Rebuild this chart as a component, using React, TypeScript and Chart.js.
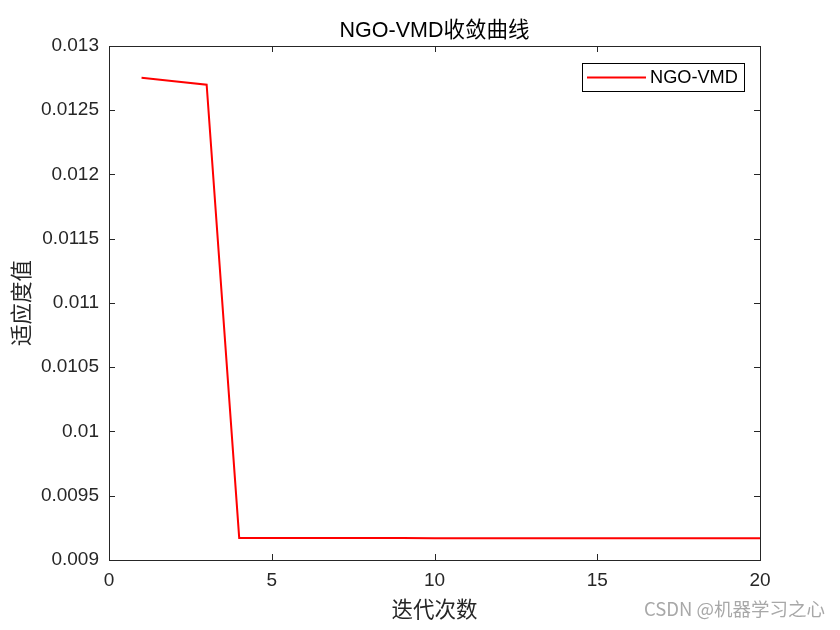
import React, { useEffect, useRef } from "react";
import { Chart, registerables } from "chart.js";

Chart.register(...registerables);

const iterations = [1, 2, 3, 4, 5, 6, 7, 8, 9, 10, 11, 12, 13, 14, 15, 16, 17, 18, 19, 20];
const fitness = [
  0.012753, 0.012726, 0.012699, 0.009172, 0.009172, 0.009172, 0.009171, 0.009171, 0.009171, 0.00917,
  0.00917, 0.00917, 0.00917, 0.00917, 0.00917, 0.009169, 0.009169, 0.009169, 0.009169, 0.009169,
];
const xTicks = [0, 5, 10, 15, 20];
const yTicks = [0.009, 0.0095, 0.01, 0.0105, 0.011, 0.0115, 0.012, 0.0125, 0.013];
const seriesName = "NGO-VMD";
const titleText = "NGO-VMD收敛曲线";
const xLabel = "迭代次数";
const yLabel = "适应度值";
const watermark = "CSDN @机器学习之心";

const LATIN = '"Liberation Sans", Arial, "Noto Sans CJK SC", sans-serif';
const CJK = '"Noto Sans CJK SC", sans-serif';
const AXIS = "#262626";

const decorPlugin = {
  id: "decor",
  afterDraw(chart: any) {
    const { ctx, chartArea } = chart;
    const { left, right, top, bottom } = chartArea;
    const xs = chart.scales.x;
    const ys = chart.scales.y;
    ctx.save();
    // box
    ctx.strokeStyle = AXIS;
    ctx.lineWidth = 1;
    ctx.strokeRect(Math.round(left) + 0.5, Math.round(top) + 0.5, Math.round(right - left), Math.round(bottom - top));
    // ticks inward
    const tl = 6;
    ctx.beginPath();
    xTicks.forEach((v) => {
      const px = Math.round(xs.getPixelForValue(v)) + 0.5;
      ctx.moveTo(px, bottom);
      ctx.lineTo(px, bottom - tl);
      ctx.moveTo(px, top);
      ctx.lineTo(px, top + tl);
    });
    yTicks.forEach((v) => {
      const py = Math.round(ys.getPixelForValue(v)) + 0.5;
      ctx.moveTo(left, py);
      ctx.lineTo(left + tl, py);
      ctx.moveTo(right, py);
      ctx.lineTo(right - tl, py);
    });
    ctx.stroke();

    // title
    ctx.fillStyle = "#000";
    ctx.font = `21.5px ${LATIN}`;
    ctx.textAlign = "center";
    ctx.textBaseline = "middle";
    ctx.fillText(titleText, (left + right) / 2, 31);

    // axis labels
    ctx.fillStyle = AXIS;
    ctx.font = `21.5px ${CJK}`;
    ctx.fillText(xLabel, (left + right) / 2, 609);
    ctx.save();
    ctx.translate(21, (top + bottom) / 2);
    ctx.rotate(-Math.PI / 2);
    ctx.fillText(yLabel, 0, 0);
    ctx.restore();

    // legend
    const lx = 582, ly = 63, lw = 162, lh = 28;
    ctx.fillStyle = "#fff";
    ctx.fillRect(lx, ly, lw, lh);
    ctx.strokeStyle = "#000";
    ctx.lineWidth = 1;
    ctx.strokeRect(lx + 0.5, ly + 0.5, lw, lh);
    ctx.strokeStyle = "#ff0000";
    ctx.lineWidth = 2;
    ctx.beginPath();
    ctx.moveTo(587, ly + lh / 2 + 0.5);
    ctx.lineTo(646, ly + lh / 2 + 0.5);
    ctx.stroke();
    ctx.fillStyle = "#000";
    ctx.font = `18.2px ${LATIN}`;
    ctx.textAlign = "left";
    ctx.textBaseline = "middle";
    ctx.fillText(seriesName, 650, ly + lh / 2 + 1);

    // watermark
    ctx.font = `18.5px ${CJK}`;
    ctx.fillStyle = "#a8a8a8";
    ctx.textAlign = "right";
    ctx.fillText(watermark, 825, 609);
    ctx.restore();
  },
};

export default function App() {
  const ref = useRef<HTMLCanvasElement | null>(null);
  useEffect(() => {
    if (!ref.current) return;
    const chart = new Chart(ref.current, {
      type: "line",
      data: {
        datasets: [
          {
            label: seriesName,
            data: iterations.map((x, i) => ({ x, y: fitness[i] })),
            borderColor: "#ff0000",
            backgroundColor: "#ff0000",
            borderWidth: 2,
            pointRadius: 0,
            tension: 0,
          },
        ],
      },
      options: {
        animation: false,
        responsive: false,
        devicePixelRatio: 1,
        layout: { padding: { top: 46, right: 80, left: 0, bottom: 0 } },
        plugins: { legend: { display: false }, title: { display: false }, tooltip: { enabled: false } },
        scales: {
          x: {
            type: "linear",
            min: 0,
            max: 20,
            grid: { display: false, drawTicks: false },
            border: { display: false },
            afterFit: (s: any) => {
              s.height = 70;
            },
            afterBuildTicks: (s: any) => {
              s.ticks = xTicks.map((v) => ({ value: v }));
            },
            ticks: {
              color: AXIS,
              font: { family: LATIN, size: 19 },
              padding: 9,
              maxRotation: 0,
              callback: (v: any) => String(v),
            },
          },
          y: {
            type: "linear",
            min: 0.009,
            max: 0.013,
            grid: { display: false, drawTicks: false },
            border: { display: false },
            afterFit: (s: any) => {
              s.width = 109;
            },
            afterBuildTicks: (s: any) => {
              s.ticks = yTicks.map((v) => ({ value: v }));
            },
            ticks: {
              color: AXIS,
              font: { family: LATIN, size: 19 },
              padding: 10,
              callback: (v: any) => String(Number(Number(v).toFixed(5))),
            },
          },
        },
      },
      plugins: [decorPlugin],
    });
    return () => chart.destroy();
  }, []);
  return (
    <div style={{ position: "fixed", left: 0, top: 0, width: 840, height: 630, background: "#fff" }}>
      <canvas ref={ref} width={840} height={630} />
    </div>
  );
}
